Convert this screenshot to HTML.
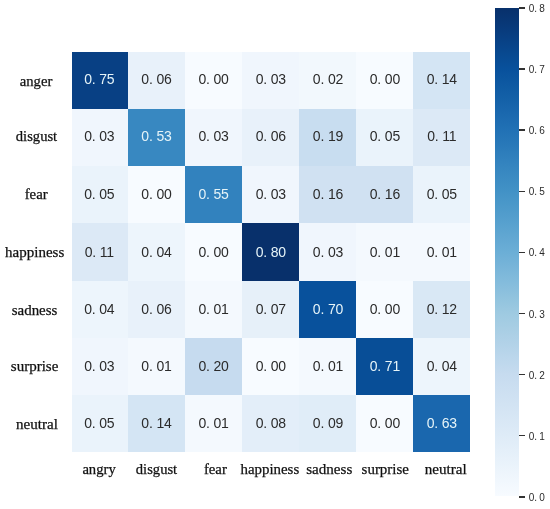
<!DOCTYPE html>
<html lang="en"><head><meta charset="utf-8"><title>Confusion matrix</title>
<style>
html,body{margin:0;padding:0;background:#fff;}
body{width:550px;height:509px;position:relative;overflow:hidden;}
.c{position:absolute;font-family:"Liberation Sans",sans-serif;font-size:14.0px;color:#2b2b2b;text-align:center;white-space:nowrap;letter-spacing:-0.25px;}
.c > span{position:absolute;display:block;line-height:16px;height:16px;text-align:center;}
.c.w{color:#e6f4f8;}
.c .p{margin-right:3.9px;}
.lb{position:absolute;width:90px;text-align:center;font-family:"Liberation Serif",serif;font-size:14.7px;color:#111;line-height:20px;height:20px;white-space:nowrap;-webkit-text-stroke:0.25px #111;}
.mask{position:absolute;left:0;top:40px;width:72px;height:425px;background:#fff;}
.cb{position:absolute;left:494.8px;top:8.3px;width:24.4px;height:487.8px;background:linear-gradient(to top,rgb(247,251,255) 0.000%,rgb(241,247,253) 3.125%,rgb(234,243,251) 6.250%,rgb(228,239,249) 9.375%,rgb(222,235,247) 12.500%,rgb(216,231,245) 15.625%,rgb(210,227,243) 18.750%,rgb(204,223,241) 21.875%,rgb(198,219,239) 25.000%,rgb(188,215,236) 28.125%,rgb(178,210,232) 31.250%,rgb(168,206,228) 34.375%,rgb(158,202,225) 37.500%,rgb(145,195,222) 40.625%,rgb(132,188,220) 43.750%,rgb(120,181,217) 46.875%,rgb(107,174,214) 50.000%,rgb(97,167,210) 53.125%,rgb(86,160,206) 56.250%,rgb(76,153,202) 59.375%,rgb(66,146,198) 62.500%,rgb(58,138,194) 65.625%,rgb(50,130,190) 68.750%,rgb(41,121,185) 71.875%,rgb(33,113,181) 75.000%,rgb(27,105,175) 78.125%,rgb(20,97,168) 81.250%,rgb(14,89,162) 84.375%,rgb(8,81,156) 87.500%,rgb(8,73,144) 90.625%,rgb(8,64,132) 93.750%,rgb(8,56,119) 96.875%,rgb(8,48,107) 100.000%);}
.tk{position:absolute;left:519.2px;width:6.2px;height:1.3px;background:#333;}
.tl{position:absolute;left:528.7px;font-family:"Liberation Sans",sans-serif;font-size:10.0px;color:#2b2b2b;line-height:14px;height:14px;white-space:nowrap;}
.tl .p{margin-right:2.2px;}
</style></head><body>

<div class="c w" style="left:70.40px;top:51.65px;width:57.50px;height:57.45px;background:rgb(8,64,132)"><span style="left:0.40px;top:19.35px;width:57.10px">0<span class="p">.</span>75</span></div>
<div class="c" style="left:127.50px;top:51.65px;width:57.50px;height:57.45px;background:rgb(232,241,250)"><span style="left:0.40px;top:19.35px;width:57.10px">0<span class="p">.</span>06</span></div>
<div class="c" style="left:184.60px;top:51.65px;width:57.60px;height:57.45px;background:rgb(247,251,255)"><span style="left:0.40px;top:19.35px;width:57.20px">0<span class="p">.</span>00</span></div>
<div class="c" style="left:241.80px;top:51.65px;width:57.65px;height:57.45px;background:rgb(240,246,253)"><span style="left:0.40px;top:19.35px;width:57.25px">0<span class="p">.</span>03</span></div>
<div class="c" style="left:299.05px;top:51.65px;width:57.35px;height:57.45px;background:rgb(242,248,253)"><span style="left:0.40px;top:19.35px;width:56.95px">0<span class="p">.</span>02</span></div>
<div class="c" style="left:356.00px;top:51.65px;width:57.35px;height:57.45px;background:rgb(247,251,255)"><span style="left:0.40px;top:19.35px;width:56.95px">0<span class="p">.</span>00</span></div>
<div class="c" style="left:412.95px;top:51.65px;width:56.95px;height:57.45px;background:rgb(212,229,244)"><span style="left:0.40px;top:19.35px;width:56.95px">0<span class="p">.</span>14</span></div>
<div class="c" style="left:70.40px;top:108.70px;width:57.50px;height:57.55px;background:rgb(240,246,253)"><span style="left:0.40px;top:19.30px;width:57.10px">0<span class="p">.</span>03</span></div>
<div class="c w" style="left:127.50px;top:108.70px;width:57.50px;height:57.55px;background:rgb(56,136,193)"><span style="left:0.40px;top:19.30px;width:57.10px">0<span class="p">.</span>53</span></div>
<div class="c" style="left:184.60px;top:108.70px;width:57.60px;height:57.55px;background:rgb(240,246,253)"><span style="left:0.40px;top:19.30px;width:57.20px">0<span class="p">.</span>03</span></div>
<div class="c" style="left:241.80px;top:108.70px;width:57.65px;height:57.55px;background:rgb(232,241,250)"><span style="left:0.40px;top:19.30px;width:57.25px">0<span class="p">.</span>06</span></div>
<div class="c" style="left:299.05px;top:108.70px;width:57.35px;height:57.55px;background:rgb(200,221,240)"><span style="left:0.40px;top:19.30px;width:56.95px">0<span class="p">.</span>19</span></div>
<div class="c" style="left:356.00px;top:108.70px;width:57.35px;height:57.55px;background:rgb(234,243,251)"><span style="left:0.40px;top:19.30px;width:56.95px">0<span class="p">.</span>05</span></div>
<div class="c" style="left:412.95px;top:108.70px;width:56.95px;height:57.55px;background:rgb(220,233,246)"><span style="left:0.40px;top:19.30px;width:56.95px">0<span class="p">.</span>11</span></div>
<div class="c" style="left:70.40px;top:165.85px;width:57.50px;height:57.50px;background:rgb(234,243,251)"><span style="left:0.40px;top:20.15px;width:57.10px">0<span class="p">.</span>05</span></div>
<div class="c" style="left:127.50px;top:165.85px;width:57.50px;height:57.50px;background:rgb(247,251,255)"><span style="left:0.40px;top:20.15px;width:57.10px">0<span class="p">.</span>00</span></div>
<div class="c w" style="left:184.60px;top:165.85px;width:57.60px;height:57.50px;background:rgb(50,130,190)"><span style="left:0.40px;top:20.15px;width:57.20px">0<span class="p">.</span>55</span></div>
<div class="c" style="left:241.80px;top:165.85px;width:57.65px;height:57.50px;background:rgb(240,246,253)"><span style="left:0.40px;top:20.15px;width:57.25px">0<span class="p">.</span>03</span></div>
<div class="c" style="left:299.05px;top:165.85px;width:57.35px;height:57.50px;background:rgb(208,225,242)"><span style="left:0.40px;top:20.15px;width:56.95px">0<span class="p">.</span>16</span></div>
<div class="c" style="left:356.00px;top:165.85px;width:57.35px;height:57.50px;background:rgb(208,225,242)"><span style="left:0.40px;top:20.15px;width:56.95px">0<span class="p">.</span>16</span></div>
<div class="c" style="left:412.95px;top:165.85px;width:56.95px;height:57.50px;background:rgb(234,243,251)"><span style="left:0.40px;top:20.15px;width:56.95px">0<span class="p">.</span>05</span></div>
<div class="c" style="left:70.40px;top:222.95px;width:57.50px;height:57.95px;background:rgb(220,233,246)"><span style="left:0.40px;top:21.05px;width:57.10px">0<span class="p">.</span>11</span></div>
<div class="c" style="left:127.50px;top:222.95px;width:57.50px;height:57.95px;background:rgb(237,245,252)"><span style="left:0.40px;top:21.05px;width:57.10px">0<span class="p">.</span>04</span></div>
<div class="c" style="left:184.60px;top:222.95px;width:57.60px;height:57.95px;background:rgb(247,251,255)"><span style="left:0.40px;top:21.05px;width:57.20px">0<span class="p">.</span>00</span></div>
<div class="c w" style="left:241.80px;top:222.95px;width:57.65px;height:57.95px;background:rgb(8,48,107)"><span style="left:0.40px;top:21.05px;width:57.25px">0<span class="p">.</span>80</span></div>
<div class="c" style="left:299.05px;top:222.95px;width:57.35px;height:57.95px;background:rgb(240,246,253)"><span style="left:0.40px;top:21.05px;width:56.95px">0<span class="p">.</span>03</span></div>
<div class="c" style="left:356.00px;top:222.95px;width:57.35px;height:57.95px;background:rgb(244,249,254)"><span style="left:0.40px;top:21.05px;width:56.95px">0<span class="p">.</span>01</span></div>
<div class="c" style="left:412.95px;top:222.95px;width:56.95px;height:57.95px;background:rgb(244,249,254)"><span style="left:0.40px;top:21.05px;width:56.95px">0<span class="p">.</span>01</span></div>
<div class="c" style="left:70.40px;top:280.50px;width:57.50px;height:57.75px;background:rgb(237,245,252)"><span style="left:0.40px;top:20.50px;width:57.10px">0<span class="p">.</span>04</span></div>
<div class="c" style="left:127.50px;top:280.50px;width:57.50px;height:57.75px;background:rgb(232,241,250)"><span style="left:0.40px;top:20.50px;width:57.10px">0<span class="p">.</span>06</span></div>
<div class="c" style="left:184.60px;top:280.50px;width:57.60px;height:57.75px;background:rgb(244,249,254)"><span style="left:0.40px;top:20.50px;width:57.20px">0<span class="p">.</span>01</span></div>
<div class="c" style="left:241.80px;top:280.50px;width:57.65px;height:57.75px;background:rgb(230,240,249)"><span style="left:0.40px;top:20.50px;width:57.25px">0<span class="p">.</span>07</span></div>
<div class="c w" style="left:299.05px;top:280.50px;width:57.35px;height:57.75px;background:rgb(8,81,156)"><span style="left:0.40px;top:20.50px;width:56.95px">0<span class="p">.</span>70</span></div>
<div class="c" style="left:356.00px;top:280.50px;width:57.35px;height:57.75px;background:rgb(247,251,255)"><span style="left:0.40px;top:20.50px;width:56.95px">0<span class="p">.</span>00</span></div>
<div class="c" style="left:412.95px;top:280.50px;width:56.95px;height:57.75px;background:rgb(217,232,245)"><span style="left:0.40px;top:20.50px;width:56.95px">0<span class="p">.</span>12</span></div>
<div class="c" style="left:70.40px;top:337.85px;width:57.50px;height:57.65px;background:rgb(240,246,253)"><span style="left:0.40px;top:20.15px;width:57.10px">0<span class="p">.</span>03</span></div>
<div class="c" style="left:127.50px;top:337.85px;width:57.50px;height:57.65px;background:rgb(244,249,254)"><span style="left:0.40px;top:20.15px;width:57.10px">0<span class="p">.</span>01</span></div>
<div class="c" style="left:184.60px;top:337.85px;width:57.60px;height:57.65px;background:rgb(198,219,239)"><span style="left:0.40px;top:20.15px;width:57.20px">0<span class="p">.</span>20</span></div>
<div class="c" style="left:241.80px;top:337.85px;width:57.65px;height:57.65px;background:rgb(247,251,255)"><span style="left:0.40px;top:20.15px;width:57.25px">0<span class="p">.</span>00</span></div>
<div class="c" style="left:299.05px;top:337.85px;width:57.35px;height:57.65px;background:rgb(244,249,254)"><span style="left:0.40px;top:20.15px;width:56.95px">0<span class="p">.</span>01</span></div>
<div class="c w" style="left:356.00px;top:337.85px;width:57.35px;height:57.65px;background:rgb(8,78,151)"><span style="left:0.40px;top:20.15px;width:56.95px">0<span class="p">.</span>71</span></div>
<div class="c" style="left:412.95px;top:337.85px;width:56.95px;height:57.65px;background:rgb(237,245,252)"><span style="left:0.40px;top:20.15px;width:56.95px">0<span class="p">.</span>04</span></div>
<div class="c" style="left:70.40px;top:395.10px;width:57.50px;height:56.80px;background:rgb(234,243,251)"><span style="left:0.40px;top:19.90px;width:57.10px">0<span class="p">.</span>05</span></div>
<div class="c" style="left:127.50px;top:395.10px;width:57.50px;height:56.80px;background:rgb(212,229,244)"><span style="left:0.40px;top:19.90px;width:57.10px">0<span class="p">.</span>14</span></div>
<div class="c" style="left:184.60px;top:395.10px;width:57.60px;height:56.80px;background:rgb(244,249,254)"><span style="left:0.40px;top:19.90px;width:57.20px">0<span class="p">.</span>01</span></div>
<div class="c" style="left:241.80px;top:395.10px;width:57.65px;height:56.80px;background:rgb(227,238,249)"><span style="left:0.40px;top:19.90px;width:57.25px">0<span class="p">.</span>08</span></div>
<div class="c" style="left:299.05px;top:395.10px;width:57.35px;height:56.80px;background:rgb(224,237,248)"><span style="left:0.40px;top:19.90px;width:56.95px">0<span class="p">.</span>09</span></div>
<div class="c" style="left:356.00px;top:395.10px;width:57.35px;height:56.80px;background:rgb(247,251,255)"><span style="left:0.40px;top:19.90px;width:56.95px">0<span class="p">.</span>00</span></div>
<div class="c w" style="left:412.95px;top:395.10px;width:56.95px;height:56.80px;background:rgb(26,103,174)"><span style="left:0.40px;top:19.90px;width:56.95px">0<span class="p">.</span>63</span></div>
<div class="mask"></div>
<div class="lb" style="left:-9.00px;top:70.94px;font-size:14.70px">anger</div>
<div class="lb" style="left:-8.50px;top:125.67px;font-size:14.60px">disgust</div>
<div class="lb" style="left:-8.85px;top:183.81px;font-size:14.80px">fear</div>
<div class="lb" style="left:-10.30px;top:242.04px;font-size:15.00px">happiness</div>
<div class="lb" style="left:-10.45px;top:299.55px;font-size:14.95px">sadness</div>
<div class="lb" style="left:-10.45px;top:356.24px;font-size:15.00px">surprise</div>
<div class="lb" style="left:-8.00px;top:414.00px;font-size:15.10px">neutral</div>
<div class="lb" style="left:54.05px;top:458.96px;font-size:14.65px">angry</div>
<div class="lb" style="left:111.50px;top:458.97px;font-size:14.60px">disgust</div>
<div class="lb" style="left:170.35px;top:458.92px;font-size:14.75px">fear</div>
<div class="lb" style="left:224.85px;top:458.87px;font-size:14.90px">happiness</div>
<div class="lb" style="left:284.25px;top:458.80px;font-size:15.10px">sadness</div>
<div class="lb" style="left:340.25px;top:458.85px;font-size:14.95px">surprise</div>
<div class="lb" style="left:400.75px;top:458.80px;font-size:15.10px">neutral</div>
<div class="cb"></div>
<div class="tk" style="top:496.25px"></div>
<div class="tl" style="top:490.90px">0<span class="p">.</span>0</div>
<div class="tk" style="top:435.12px"></div>
<div class="tl" style="top:429.77px">0<span class="p">.</span>1</div>
<div class="tk" style="top:373.99px"></div>
<div class="tl" style="top:368.64px">0<span class="p">.</span>2</div>
<div class="tk" style="top:312.86px"></div>
<div class="tl" style="top:307.51px">0<span class="p">.</span>3</div>
<div class="tk" style="top:251.73px"></div>
<div class="tl" style="top:246.38px">0<span class="p">.</span>4</div>
<div class="tk" style="top:190.60px"></div>
<div class="tl" style="top:185.25px">0<span class="p">.</span>5</div>
<div class="tk" style="top:129.47px"></div>
<div class="tl" style="top:124.12px">0<span class="p">.</span>6</div>
<div class="tk" style="top:68.34px"></div>
<div class="tl" style="top:62.99px">0<span class="p">.</span>7</div>
<div class="tk" style="top:7.21px"></div>
<div class="tl" style="top:1.86px">0<span class="p">.</span>8</div>
</body></html>
